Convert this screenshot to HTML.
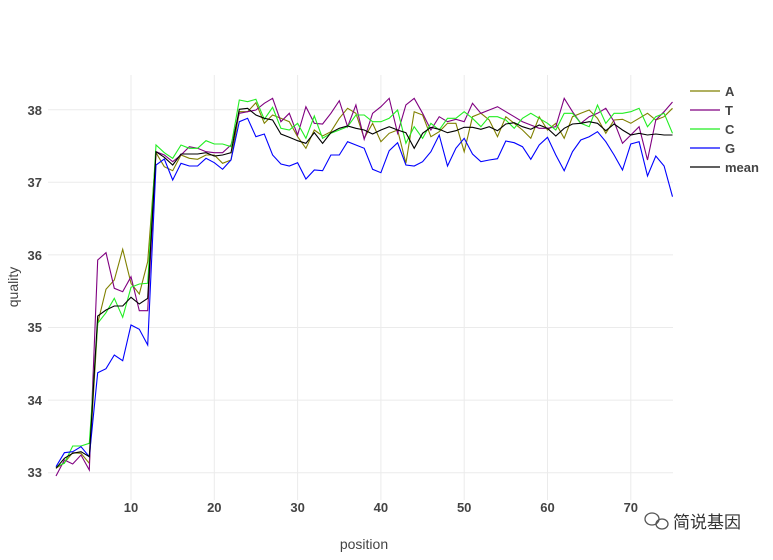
<!DOCTYPE html>
<html><head><meta charset="utf-8"><style>
body{margin:0;background:#fff;width:773px;height:555px;overflow:hidden}
svg text{font-family:"Liberation Sans","Noto Sans CJK SC",sans-serif}
</style></head><body>
<svg id="s" width="773" height="555" xmlns="http://www.w3.org/2000/svg">
<g stroke="#ebebeb" stroke-width="1">
<line x1="48" x2="673" y1="472.7" y2="472.7"/><line x1="48" x2="673" y1="400.1" y2="400.1"/>
<line x1="48" x2="673" y1="327.5" y2="327.5"/><line x1="48" x2="673" y1="254.9" y2="254.9"/>
<line x1="48" x2="673" y1="182.3" y2="182.3"/><line x1="48" x2="673" y1="109.7" y2="109.7"/>
<line y1="75" y2="500" x1="131" x2="131"/><line y1="75" y2="500" x1="214.3" x2="214.3"/>
<line y1="75" y2="500" x1="297.6" x2="297.6"/><line y1="75" y2="500" x1="380.9" x2="380.9"/>
<line y1="75" y2="500" x1="464.2" x2="464.2"/><line y1="75" y2="500" x1="547.5" x2="547.5"/>
<line y1="75" y2="500" x1="630.8" x2="630.8"/>
</g>
<g font-size="13" font-weight="bold" fill="#444" text-anchor="end">
<text x="42" y="477">33</text><text x="42" y="405">34</text><text x="42" y="332">35</text>
<text x="42" y="260">36</text><text x="42" y="187">37</text><text x="42" y="115">38</text>
</g>
<g font-size="13" font-weight="bold" fill="#444" text-anchor="middle">
<text x="131" y="512">10</text><text x="214.3" y="512">20</text><text x="297.6" y="512">30</text>
<text x="380.9" y="512">40</text><text x="464.2" y="512">50</text><text x="547.5" y="512">60</text>
<text x="630.8" y="512">70</text>
</g>
<text x="364" y="549" font-size="14" fill="#444" text-anchor="middle">position</text>
<text x="18" y="287" font-size="14" fill="#444" text-anchor="middle" transform="rotate(-90 18 287)">quality</text>
<g id="lines" fill="none" stroke-width="1.1"></g>
<g stroke-width="1.3">
<line x1="690" x2="720" y1="91" y2="91" stroke="#808000"/>
<line x1="690" x2="720" y1="110" y2="110" stroke="#800080"/>
<line x1="690" x2="720" y1="129" y2="129" stroke="#22ee22"/>
<line x1="690" x2="720" y1="148" y2="148" stroke="#0000ff"/>
<line x1="690" x2="720" y1="167" y2="167" stroke="#000"/>
</g>
<g font-size="13" font-weight="bold" fill="#444">
<text x="725" y="96">A</text><text x="725" y="115">T</text><text x="725" y="134">C</text>
<text x="725" y="153">G</text><text x="725" y="172">mean</text>
</g>
<g fill="none" stroke="#555" stroke-width="1.3"><ellipse cx="652" cy="519" rx="7" ry="6"/><ellipse cx="662" cy="524" rx="6" ry="5"/></g>
<text x="673" y="528" font-size="17" fill="#333">简说基因</text>
</svg>
<script>
var S={
"#808000":[1165,1148,1118,1120,1150,730,628,600,508,610,642,545,218,260,272,225,235,238,225,225,250,240,95,95,68,130,105,115,125,170,205,150,168,155,115,85,100,175,130,185,160,150,250,95,105,170,155,130,130,215,110,100,120,170,110,130,150,175,110,150,130,175,110,100,90,115,160,120,118,130,115,100,120,110,85],
"#800080":[1188,1140,1152,1125,1170,540,518,625,635,590,692,692,215,225,245,225,200,205,215,218,218,195,100,95,90,70,55,125,100,165,80,130,132,100,62,140,75,178,100,80,55,160,75,55,100,150,110,125,118,125,70,100,90,80,95,110,125,135,145,145,140,55,95,130,110,100,85,125,190,165,140,240,120,95,66],
"#22ee22":[1160,1150,1098,1098,1090,730,698,655,712,622,612,610,195,218,235,195,205,205,182,192,192,200,60,65,58,118,82,145,150,130,175,108,175,160,150,140,105,105,125,125,115,90,190,140,175,130,150,115,115,95,115,140,110,110,120,145,115,100,115,130,150,100,100,130,140,75,130,100,100,95,85,140,110,100,160],
"#0000ff":[1160,1118,1115,1100,1130,878,866,825,842,735,748,795,255,237,300,250,258,258,235,248,268,240,125,115,170,162,225,252,258,248,297,270,272,225,225,185,195,205,268,278,212,188,255,258,245,215,165,258,205,175,222,245,240,236,183,188,200,238,195,172,225,272,215,180,170,155,185,225,270,192,185,288,228,258,350],
"#000000":[1165,1135,1120,1115,1130,708,690,678,678,652,672,655,215,232,255,222,222,222,218,228,225,218,88,85,105,115,120,162,172,182,190,158,190,158,145,138,145,150,162,150,140,150,158,205,160,142,148,158,152,142,142,148,140,152,132,128,140,148,135,145,168,145,132,130,125,130,152,132,150,165,160,165,162,165,165]};
var g=document.getElementById('lines'),ns='http://www.w3.org/2000/svg';
for(var c in S){var p=S[c].map(function(z,i){return (47.7+8.33*(i+1)).toFixed(1)+','+(80+z/3).toFixed(1)}).join(' ');
var e=document.createElementNS(ns,'polyline');e.setAttribute('points',p);e.setAttribute('stroke',c);g.appendChild(e);}
</script>
</body></html>
